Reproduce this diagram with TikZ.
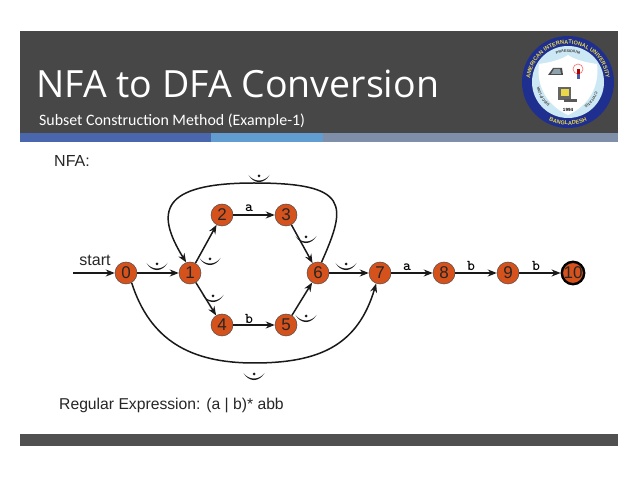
\documentclass[tikz,border=0pt]{standalone}
\usepackage{fontspec}
\setmainfont{Liberation Sans}
\newfontfamily\titlefont{Open Sans}
\newfontfamily\subfont{Carlito}
\usetikzlibrary{arrows.meta,decorations.text}
\definecolor{slatedark}{HTML}{474747}
\definecolor{barblue}{HTML}{4A66AC}
\definecolor{barsky}{HTML}{629DD1}
\definecolor{bargrey}{HTML}{7F8FA9}
\definecolor{stateorange}{HTML}{D6521C}
\definecolor{sealnavy}{HTML}{1F2F8F}
\definecolor{sealsky}{HTML}{CDE8F5}
\definecolor{sealgold}{HTML}{E8D84A}
\tikzset{
  state/.style={circle,draw=black!70,line width=0.5pt,fill=stateorange,minimum size=22pt,inner sep=0pt,font=\fontsize{17}{17}\selectfont,text=black!85},
  finalstate/.style={state,draw=black,line width=2.4pt,minimum size=20pt},
  trans/.style={->,line width=1.5pt,black!90},
  sym/.style={inner sep=0pt,font=\ttfamily\bfseries\fontsize{15}{15}\selectfont},
  plain/.style={font=\fontsize{16}{16}\selectfont,text=black!85,inner sep=0pt},
  sealtext/.style={decorate,decoration={text along path,text align=center,text={|\fontsize{5.6}{5.6}\selectfont\bfseries\color{sealgold}|#1}}},
  sealsmall/.style={decorate,decoration={text along path,text align=center,text={|\fontsize{3.8}{3.8}\selectfont\bfseries\color{black!75}|#1}}},
  epsmark/.pic={
    \fill[black!90] (-10.5,-4) .. controls (-5,5.4) and (5,5.4) .. (10.5,-4) .. controls (5,3.4) and (-5,3.4) .. cycle;
    \fill[black!90] (0,-3) circle (1.5);
  }
}
\begin{document}
\begin{tikzpicture}[x=1pt,y=-1pt,>={Stealth[length=9pt,width=7pt]}]
  \useasboundingbox (0,0) rectangle (638,478);
  % header and bars
  \fill[slatedark] (20,31) rectangle (618,133);
  \fill[barblue] (20,133) rectangle (211,142);
  \fill[barsky] (211,133) rectangle (323,142);
  \fill[bargrey] (323,133) rectangle (618,142);
  \fill[slatedark!95] (20,434) rectangle (618,446);
  \node[anchor=west,inner sep=0pt,text=white,font=\titlefont\fontsize{37.5}{37.5}\selectfont] (title) at (36,84) {NFA to DFA Conversion};
  \node[anchor=west,inner sep=0pt,text=white,font=\subfont\fontsize{15.9}{15.9}\selectfont] (subtitle) at (39,121) {Subset Construction Method (Example-1)};
  % seal
  \begin{scope}[shift={(568,82)},x=1pt,y=1pt]
    \fill[sealnavy] (0,0) circle (46);
    \fill[sealsky] (0,0) circle (36);
    \fill[white] (-29,18) .. controls (-15,20) and (-6,23) .. (0,27) .. controls (6,23) and (15,20) .. (29,18)
      .. controls (32,-5) and (20,-24) .. (0,-33) .. controls (-20,-24) and (-32,-5) .. (-29,18) -- cycle;
    \path[sealtext={AMERICAN INTERNATIONAL UNIVERSITY}] (185:38) arc (185:-5:38);
    \path[sealtext={BANGLADESH}] (-122:43) arc (-122:-58:43);
    \path[sealsmall={PRAESIDIUM}] (125:30) arc (125:55:30);
    \path[sealsmall={DISCIPLINA}] (-115:29) arc (-115:-185:29);
    \path[sealsmall={CIVITATIS}] (-10:29) arc (-10:-65:29);
    \node[inner sep=0pt,font=\fontsize{4.5}{4.5}\selectfont\bfseries] (sealyear) at (0,-28) {1994};
    \fill[black!70] (-20,7) -- (-15,14) -- (-6,14) -- (-5,7) -- cycle;
    \fill[sealsky!70!black] (-17,8) -- (-14,13) -- (-8,13) -- (-7,8) -- cycle;
    \draw[red!60,line width=0.6pt] (10,13) circle (5);
    \fill[red!70!black] (9,13) rectangle (11.5,8);
    \fill[sealnavy!80] (9,8) rectangle (11.5,3);
    \fill[black!60] (-10,-5) rectangle (3,-18);
    \fill[sealgold] (-7,-7) rectangle (1,-14);
    \fill[black!65] (-4,-17) rectangle (9,-20);
  \end{scope}
  % texts
  \node[plain,anchor=west] (nfa) at (54,161) {NFA:};
  \node[plain,anchor=west,font=\fontsize{15.7}{15.7}\selectfont] (regex) at (59,405) {Regular Expression: (a | b)* abb};
  \node[plain] (start) at (95,260) {start};
  % states
  \node[state] (n0) at (126,273) {0};
  \node[state] (n1) at (190,273) {1};
  \node[state] (n2) at (222,215) {2};
  \node[state] (n3) at (286,215) {3};
  \node[state] (n4) at (222,325) {4};
  \node[state] (n5) at (286,325) {5};
  \node[state] (n6) at (318,273) {6};
  \node[state] (n7) at (380,273) {7};
  \node[state] (n8) at (444,273) {8};
  \node[state] (n9) at (508,273) {9};
  \node[finalstate] (n10) at (573,273) {10};
  \coordinate (entry) at (73,273);
  \coordinate (topmid) at (254,183);
  \coordinate (botmid) at (254,363);
  % transitions
  \draw[trans] (entry) -- (n0);
  \draw[trans] (n0) -- (n1);
  \draw[trans] (n1) -- (n2);
  \draw[trans] (n1) -- (n4);
  \draw[trans] (n2) -- (n3);
  \draw[trans] (n4) -- (n5);
  \draw[trans] (n3) -- (n6);
  \draw[trans] (n5) -- (n6);
  \draw[trans] (n6) -- (n7);
  \draw[trans] (n7) -- (n8);
  \draw[trans] (n8) -- (n9);
  \draw[trans] (n9) -- (n10);
  \draw[trans] (n6.72) .. controls (347,205) and (350,183) .. (topmid) .. controls (160,183) and (155,212) .. (n1.110);
  \draw[trans] (n0.-60) .. controls (150,340) and (190,363) .. (botmid) .. controls (320,363) and (358,345) .. (n7.-110);
  % symbols
  \node[sym] (la) at (249,208) {a};
  \node[sym] (lb) at (249,319) {b};
  \node[sym] (lc) at (407,267) {a};
  \node[sym] (ld) at (471,266) {b};
  \node[sym] (le) at (536,266) {b};
  \pic at (157,267) {epsmark};
  \pic at (210,262) {epsmark};
  \pic at (213,299) {epsmark};
  \pic at (306,240) {epsmark};
  \pic at (306,319) {epsmark};
  \pic at (259,179) {epsmark};
  \pic at (254,377) {epsmark};
  \pic at (346,267) {epsmark};
\end{tikzpicture}
\end{document}
